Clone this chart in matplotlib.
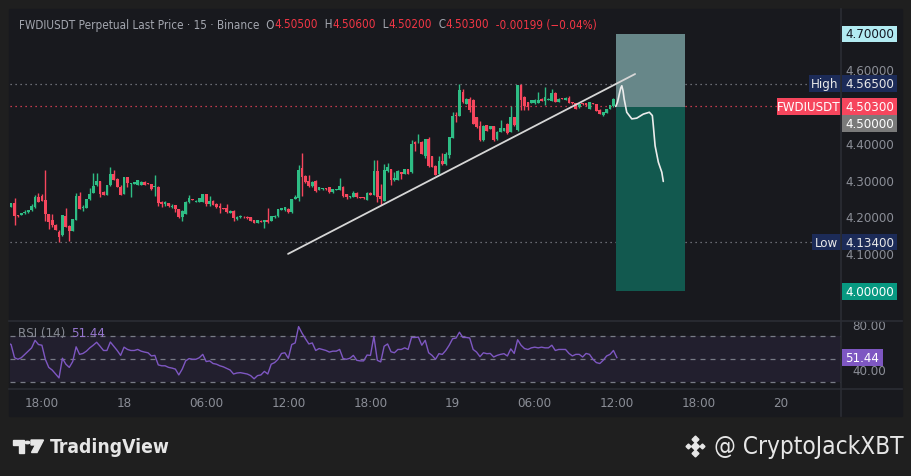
import numpy as np
import matplotlib
matplotlib.use("Agg")
import matplotlib.pyplot as plt
import matplotlib.transforms as mtransforms
from matplotlib.patches import Rectangle, Polygon, Circle

# 15 min candles, FWDIUSDT perpetual
opens = [
    4.238, 4.230, 4.240, 4.206, 4.208, 4.212, 4.215, 4.220, 4.230, 4.258,
    4.260, 4.249, 4.210, 4.194, 4.181, 4.161, 4.152, 4.206, 4.179, 4.165,
    4.194, 4.259, 4.226, 4.227, 4.250, 4.268, 4.288, 4.299, 4.271, 4.263,
    4.288, 4.319, 4.306, 4.283, 4.265, 4.310, 4.292, 4.292, 4.290, 4.290,
    4.298, 4.295, 4.292, 4.283, 4.285, 4.242, 4.238, 4.240, 4.230, 4.235,
    4.224, 4.201, 4.211, 4.242, 4.251, 4.244, 4.244, 4.244, 4.265, 4.238,
    4.247, 4.238, 4.231, 4.226, 4.226, 4.213, 4.219, 4.197, 4.201, 4.203,
    4.203, 4.201, 4.194, 4.186, 4.192, 4.188, 4.194, 4.192, 4.201, 4.204,
    4.221, 4.220, 4.224, 4.215, 4.251, 4.253, 4.335, 4.313, 4.301, 4.286,
    4.301, 4.276, 4.278, 4.280, 4.283, 4.269, 4.276, 4.276, 4.285, 4.265,
    4.256, 4.258, 4.268, 4.256, 4.255, 4.249, 4.268, 4.262, 4.327, 4.260,
    4.247, 4.326, 4.333, 4.304, 4.304, 4.324, 4.319, 4.333, 4.324, 4.407,
    4.405, 4.407, 4.369, 4.414, 4.367, 4.342, 4.320, 4.355, 4.346, 4.371,
    4.417, 4.480, 4.478, 4.543, 4.510, 4.524, 4.520, 4.474, 4.449, 4.411,
    4.452, 4.442, 4.449, 4.413, 4.434, 4.436, 4.456, 4.434, 4.474, 4.438,
    4.560, 4.529, 4.515, 4.512, 4.511, 4.512, 4.524, 4.518, 4.520, 4.518,
    4.540, 4.515, 4.525, 4.521, 4.527, 4.515, 4.511, 4.500, 4.512, 4.511,
    4.497, 4.512, 4.509, 4.494, 4.479, 4.485, 4.497, 4.503, 4.524,
]
highs = [
    4.239, 4.240, 4.254, 4.207, 4.213, 4.221, 4.222, 4.238, 4.262, 4.268,
    4.264, 4.330, 4.211, 4.210, 4.182, 4.167, 4.209, 4.227, 4.180, 4.198,
    4.267, 4.269, 4.236, 4.251, 4.281, 4.322, 4.322, 4.300, 4.272, 4.289,
    4.337, 4.330, 4.307, 4.289, 4.311, 4.311, 4.294, 4.298, 4.304, 4.299,
    4.299, 4.296, 4.293, 4.316, 4.286, 4.247, 4.247, 4.241, 4.237, 4.236,
    4.225, 4.220, 4.245, 4.262, 4.252, 4.248, 4.254, 4.266, 4.266, 4.259,
    4.248, 4.239, 4.240, 4.227, 4.238, 4.220, 4.220, 4.204, 4.207, 4.204,
    4.204, 4.202, 4.195, 4.195, 4.193, 4.195, 4.226, 4.205, 4.207, 4.225,
    4.227, 4.230, 4.226, 4.252, 4.262, 4.344, 4.376, 4.317, 4.317, 4.300,
    4.302, 4.284, 4.280, 4.281, 4.284, 4.279, 4.279, 4.308, 4.286, 4.266,
    4.259, 4.274, 4.269, 4.257, 4.256, 4.269, 4.269, 4.358, 4.357, 4.292,
    4.346, 4.349, 4.334, 4.324, 4.329, 4.325, 4.334, 4.334, 4.412, 4.410,
    4.428, 4.410, 4.415, 4.419, 4.368, 4.343, 4.367, 4.376, 4.378, 4.420,
    4.487, 4.487, 4.563, 4.551, 4.525, 4.529, 4.524, 4.475, 4.463, 4.452,
    4.453, 4.450, 4.450, 4.435, 4.467, 4.444, 4.457, 4.503, 4.475, 4.561,
    4.565, 4.530, 4.516, 4.521, 4.522, 4.542, 4.525, 4.556, 4.525, 4.549,
    4.541, 4.525, 4.526, 4.528, 4.531, 4.516, 4.512, 4.510, 4.513, 4.512,
    4.516, 4.513, 4.510, 4.495, 4.489, 4.497, 4.507, 4.525, 4.526,
]
lows = [
    4.235, 4.230, 4.181, 4.203, 4.207, 4.211, 4.214, 4.219, 4.228, 4.243,
    4.245, 4.192, 4.170, 4.174, 4.167, 4.135, 4.150, 4.175, 4.138, 4.163,
    4.193, 4.223, 4.218, 4.226, 4.249, 4.267, 4.287, 4.256, 4.262, 4.262,
    4.287, 4.302, 4.284, 4.262, 4.264, 4.285, 4.258, 4.291, 4.289, 4.289,
    4.289, 4.291, 4.277, 4.260, 4.233, 4.229, 4.233, 4.230, 4.226, 4.215,
    4.200, 4.192, 4.210, 4.241, 4.248, 4.243, 4.243, 4.243, 4.233, 4.233,
    4.234, 4.228, 4.212, 4.223, 4.214, 4.212, 4.192, 4.194, 4.200, 4.200,
    4.198, 4.191, 4.185, 4.185, 4.189, 4.172, 4.187, 4.191, 4.200, 4.203,
    4.220, 4.219, 4.214, 4.214, 4.250, 4.247, 4.260, 4.296, 4.285, 4.285,
    4.271, 4.275, 4.277, 4.277, 4.268, 4.268, 4.275, 4.275, 4.256, 4.251,
    4.255, 4.257, 4.255, 4.253, 4.252, 4.248, 4.262, 4.261, 4.242, 4.235,
    4.246, 4.325, 4.289, 4.301, 4.303, 4.306, 4.318, 4.318, 4.323, 4.383,
    4.404, 4.373, 4.363, 4.339, 4.338, 4.316, 4.319, 4.345, 4.345, 4.362,
    4.416, 4.460, 4.477, 4.512, 4.509, 4.488, 4.455, 4.443, 4.410, 4.410,
    4.435, 4.441, 4.409, 4.412, 4.433, 4.435, 4.429, 4.433, 4.451, 4.437,
    4.492, 4.492, 4.492, 4.511, 4.510, 4.511, 4.517, 4.506, 4.519, 4.517,
    4.514, 4.514, 4.522, 4.520, 4.511, 4.510, 4.496, 4.499, 4.508, 4.505,
    4.496, 4.509, 4.490, 4.481, 4.478, 4.484, 4.496, 4.502, 4.502,
]
closes = [
    4.236, 4.239, 4.206, 4.204, 4.212, 4.217, 4.221, 4.233, 4.258, 4.244,
    4.247, 4.210, 4.190, 4.181, 4.168, 4.149, 4.208, 4.176, 4.165, 4.197,
    4.260, 4.224, 4.230, 4.250, 4.265, 4.286, 4.299, 4.265, 4.263, 4.288,
    4.319, 4.303, 4.285, 4.263, 4.310, 4.296, 4.293, 4.297, 4.303, 4.298,
    4.290, 4.292, 4.278, 4.285, 4.241, 4.237, 4.242, 4.231, 4.233, 4.224,
    4.201, 4.219, 4.244, 4.253, 4.249, 4.247, 4.253, 4.265, 4.238, 4.247,
    4.235, 4.229, 4.226, 4.224, 4.215, 4.219, 4.199, 4.203, 4.206, 4.201,
    4.199, 4.192, 4.186, 4.194, 4.190, 4.194, 4.188, 4.204, 4.206, 4.224,
    4.226, 4.229, 4.215, 4.251, 4.256, 4.331, 4.310, 4.297, 4.286, 4.297,
    4.273, 4.283, 4.279, 4.278, 4.269, 4.278, 4.278, 4.286, 4.260, 4.256,
    4.258, 4.268, 4.256, 4.254, 4.253, 4.268, 4.263, 4.327, 4.256, 4.251,
    4.330, 4.337, 4.304, 4.307, 4.328, 4.319, 4.333, 4.319, 4.401, 4.401,
    4.407, 4.374, 4.414, 4.340, 4.339, 4.317, 4.355, 4.346, 4.374, 4.419,
    4.478, 4.476, 4.548, 4.516, 4.522, 4.492, 4.456, 4.447, 4.411, 4.449,
    4.436, 4.449, 4.411, 4.434, 4.443, 4.443, 4.431, 4.474, 4.452, 4.560,
    4.521, 4.503, 4.502, 4.520, 4.521, 4.520, 4.518, 4.529, 4.524, 4.540,
    4.515, 4.524, 4.523, 4.527, 4.512, 4.511, 4.497, 4.509, 4.509, 4.506,
    4.515, 4.510, 4.491, 4.482, 4.488, 4.496, 4.506, 4.524, 4.503,
]
rsi = [
    64.3, 62.9, 51.4, 50.0, 51.4, 54.3, 57.1, 60.0, 66.6, 62.9,
    62.3, 50.0, 42.9, 40.6, 37.1, 33.7, 50.9, 45.7, 42.9, 48.0,
    60.9, 54.3, 55.1, 57.1, 60.0, 62.3, 64.9, 61.4, 57.7, 57.7,
    65.1, 61.4, 57.7, 53.4, 60.6, 58.6, 57.7, 57.7, 58.6, 57.1,
    56.3, 55.7, 52.9, 53.4, 45.1, 44.3, 44.3, 42.9, 42.3, 41.4,
    36.3, 41.4, 48.6, 50.6, 50.0, 50.0, 51.4, 54.3, 48.0, 48.6,
    46.3, 45.7, 44.3, 43.4, 42.0, 40.6, 37.1, 38.0, 38.3, 37.7,
    37.1, 35.7, 32.9, 35.7, 36.3, 39.4, 37.1, 45.7, 47.1, 50.0,
    55.1, 55.7, 50.9, 62.9, 64.3, 78.6, 72.9, 68.0, 63.4, 64.3,
    57.7, 59.4, 58.6, 57.7, 56.3, 57.1, 57.1, 58.6, 50.6, 50.0,
    50.9, 53.4, 49.1, 48.6, 48.6, 53.7, 53.4, 70.0, 49.1, 47.7,
    61.4, 63.4, 56.6, 55.7, 58.6, 58.6, 60.0, 58.6, 69.1, 69.1,
    69.4, 62.3, 66.6, 55.7, 53.4, 50.0, 54.9, 54.3, 57.7, 62.3,
    68.0, 68.6, 73.7, 69.1, 69.1, 68.6, 58.6, 56.3, 52.3, 55.7,
    54.9, 55.1, 52.0, 53.4, 54.3, 54.9, 52.9, 59.1, 55.1, 67.1,
    62.3, 59.4, 58.6, 60.0, 60.6, 60.0, 60.6, 60.0, 60.0, 62.3,
    57.7, 58.6, 58.6, 58.6, 55.1, 52.9, 54.3, 54.3, 52.0, 55.1,
    54.3, 50.0, 47.1, 46.3, 49.1, 52.9, 54.3, 57.7, 51.44,
]

# hours counted from the 18th 00:00
last_bar_hour = 36.0
bar_hours = 0.25

trend_hours = [11.98, 37.33]
trend_prices = [4.102, 4.591]

path_hours = [35.92, 36.05, 36.18, 36.28, 36.36, 36.45, 36.53, 36.72, 37.09,
              37.45, 37.93, 38.37, 38.59, 38.66, 38.79, 39.03, 39.28, 39.39]
path_prices = [4.503, 4.515, 4.537, 4.553, 4.559, 4.545, 4.523, 4.487, 4.469,
               4.471, 4.482, 4.487, 4.478, 4.451, 4.396, 4.351, 4.324, 4.299]

position_hours = [35.92, 40.98]
stop_price = 4.70
entry_price = 4.50
target_price = 4.00

session_high = 4.565
session_low = 4.134
last_price = 4.503
last_rsi = 51.44

time_ticks = [-6, 0, 6, 12, 18, 24, 30, 36, 42, 48]
time_labels = ["18:00", "18", "06:00", "12:00", "18:00", "19", "06:00", "12:00", "18:00", "20"]
price_ticks = [4.10, 4.20, 4.30, 4.40, 4.60]
rsi_ticks = [80, 40]
rsi_levels = [70, 50, 30]

header_parts = [
    ("FWDIUSDT Perpetual Last Price \u00b7 15 \u00b7 Binance  O", "grey"),
    ("4.50500", "red"), ("  H", "grey"), ("4.50600", "red"),
    ("  L", "grey"), ("4.50200", "red"), ("  C", "grey"), ("4.50300", "red"),
    ("  -0.00199 (\u22120.04%)", "red"),
]

# colours
BG = "#18191e"
OUTER = "#1f1f1f"
GRID = "#2b2d34"
UP = "#2ebd85"
DOWN = "#f6465d"
TXT = "#8b8e97"
PURPLE = "#7e57c2"

# TradingView uses a narrow UI font, take the condensed DejaVu cut
plt.rcParams["font.family"] = ["DejaVu Sans"]
plt.rcParams["font.stretch"] = "condensed"

W, H = 911, 477
fig = plt.figure(figsize=(W / 100, H / 100), dpi=100, facecolor=OUTER)


def px_box(x0, y0, x1, y1):
    # pixel box (y down) -> figure fraction rect
    return [x0 / W, 1 - y1 / H, (x1 - x0) / W, (y1 - y0) / H]


def px(x, y):
    return x / W, 1 - y / H


fig.patches.append(Rectangle(px(9, 417), (902 - 9) / W, (417 - 10) / H,
                             transform=fig.transFigure, color=BG, zorder=-5))

ax = fig.add_axes(px_box(10, 11, 841, 320))
ax_rsi = fig.add_axes(px_box(10, 323, 841, 389))
for a in (ax, ax_rsi):
    a.set_facecolor(BG)
    for s in a.spines.values():
        s.set_visible(False)
    a.set_xlim(-8.33, 52.37)
ax.set_ylim(3.925, 4.765)
ax_rsi.set_ylim(24.86, 82.63)
ax.set_xticks([])
ax.set_yticks([])
ax_rsi.set_yticks([])
ax_rsi.set_xticks(time_ticks, time_labels)
ax_rsi.tick_params(axis="x", length=0, pad=6, labelcolor=TXT, labelsize=9.5)

# panel separators
for (x0, y0, x1, y1) in [(841, 10, 841, 417), (9, 321.5, 902, 321.5), (9, 389.5, 902, 389.5)]:
    fig.add_artist(plt.Line2D([x0 / W, x1 / W], [1 - y0 / H, 1 - y1 / H], color=GRID,
                              lw=1.2, zorder=5))

# candles
o = np.array(opens)
h = np.array(highs)
l = np.array(lows)
c = np.array(closes)
n = len(c)
t = last_bar_hour - bar_hours * np.arange(n)[::-1]
col = np.where(c >= o, UP, DOWN)
ax.vlines(t, l, h, colors=col, lw=1.0, zorder=3)
ax.bar(t, np.maximum(np.abs(c - o), 0.0025), width=0.2, bottom=np.minimum(o, c),
       color=col, linewidth=0, zorder=3)

# high / low / last price lines
ax.axhline(session_high, color="#83868f", lw=0.9, ls=(0, (1, 3)), zorder=2)
ax.axhline(session_low, color="#83868f", lw=0.9, ls=(0, (1, 3)), zorder=2)
ax.axhline(last_price, color=DOWN, lw=0.9, ls=(0, (1, 3)), zorder=2)

# short position tool
pw = position_hours[1] - position_hours[0]
ax.add_patch(Rectangle((position_hours[0], entry_price), pw, stop_price - entry_price,
                       color="#678789", lw=0, zorder=4))
ax.add_patch(Rectangle((position_hours[0], target_price), pw, entry_price - target_price,
                       color="#12594f", lw=0, zorder=4))

ax.plot(trend_hours, trend_prices, color="#d6d6d6", lw=1.3, zorder=6, solid_capstyle="round")
ax.plot(path_hours, path_prices, color="#ececec", lw=1.2, zorder=6,
        solid_joinstyle="round", solid_capstyle="round")

# right price scale
tr = mtransforms.blended_transform_factory(ax.transAxes, ax.transData)
hh = 8.2 / 367.7
for p in price_ticks:
    ax.text(1.0343, p, f"{p:.5f}", transform=tr, ha="center", va="center",
            color=TXT, fontsize=9.5, clip_on=False, zorder=8)


def tag(x0, x1, y, text, face, fg, half=hh):
    ax.add_patch(Rectangle((x0, y - half), x1 - x0, 2 * half, transform=tr,
                           color=face, lw=0, clip_on=False, zorder=10))
    ax.text((x0 + x1) / 2, y, text, transform=tr, ha="center", va="center",
            color=fg, fontsize=9.5, clip_on=False, zorder=11)


tag(1.0012, 1.0674, stop_price, f"{stop_price:.5f}", "#b2ebf2", "#131722")
tag(1.0012, 1.0674, session_high, f"{session_high:.5f}", "#1c2b58", "#e8e8e8")
tag(0.9615, 0.9995, session_high, "High", "#1c2b58", "#e8e8e8")
tag(1.0012, 1.0674, last_price, f"{last_price:.5f}", DOWN, "white")
tag(0.9230, 0.9995, last_price, "FWDIUSDT", DOWN, "white")
tag(1.0012, 1.0674, last_price - 2 * hh - 0.002, f"{entry_price:.5f}", "#7a7a7a", "white")
tag(1.0012, 1.0674, session_low, f"{session_low:.5f}", "#1c2b58", "#e8e8e8")
tag(0.9650, 0.9995, session_low, "Low", "#1c2b58", "#e8e8e8")
tag(1.0012, 1.0674, target_price, f"{target_price:.5f}", "#089981", "white")

# RSI pane
ax_rsi.axhspan(rsi_levels[-1], rsi_levels[0], color=PURPLE, alpha=0.1, lw=0)
for lv in rsi_levels:
    ax_rsi.axhline(lv, color="#787b86", lw=0.9, ls=(0, (4, 4)))
ax_rsi.plot(t, rsi, color=PURPLE, lw=1.0, zorder=3)
tr2 = mtransforms.blended_transform_factory(ax_rsi.transAxes, ax_rsi.transData)
for v in rsi_ticks:
    ax_rsi.text(1.0343, v, f"{v:.2f}", transform=tr2, ha="center", va="center",
                color=TXT, fontsize=9.5, clip_on=False)
rh = 7.3
ax_rsi.add_patch(Rectangle((1.0012, last_rsi - rh), 0.0493, 2 * rh, transform=tr2,
                           color=PURPLE, lw=0, clip_on=False, zorder=10))
ax_rsi.text(1.0258, last_rsi, f"{last_rsi:.2f}", transform=tr2, ha="center", va="center",
            color="white", fontsize=9.5, clip_on=False, zorder=11)
r1 = ax_rsi.text(0.0096, 0.84, "RSI (14)", transform=ax_rsi.transAxes, ha="left",
                 va="center", color="#868993", fontsize=9.5)

renderer = fig.canvas.get_renderer()
bb = r1.get_window_extent(renderer)
x_next = ax_rsi.transAxes.inverted().transform((bb.x1 + 6, 0))[0]
ax_rsi.text(x_next, 0.84, f"{last_rsi:.2f}", transform=ax_rsi.transAxes, ha="left",
            va="center", color="#9575cd", fontsize=9.5)

# header legend, pieces laid side by side, scaled so it ends where the original does
hsize = 10
pieces = []
hx, hy = px(18.6, 25)
for text, kind in header_parts:
    piece = fig.text(hx, hy, text, ha="left", va="center", fontsize=hsize,
                     color="#a3a6af" if kind == "grey" else "#f23645")
    pieces.append(piece)
    hx = piece.get_window_extent(renderer).x1 / W
scale = (592 - 18.6) / (hx * W - 18.6)
hsize = hsize * min(scale, 1.0)
hx = 18.6 / W
for piece in pieces:
    piece.set_fontsize(hsize)
    piece.set_x(hx)
    hx = piece.get_window_extent(renderer).x1 / W

# footer: TradingView mark
logo = "#e6e6e6"


def pts(seq):
    return [px(x, y) for x, y in seq]


fig.patches.append(Polygon(pts([(13, 441), (24, 441), (24, 453.5), (19, 453.5), (19, 446), (13, 446)]),
                           closed=True, transform=fig.transFigure, color=logo))
fig.patches.append(Circle(px(27.5, 443.5), 2.3 / W, transform=fig.transFigure, color=logo))
fig.patches.append(Polygon(pts([(31, 441), (43.5, 441), (37, 453.5), (31.5, 453.5), (35.5, 446), (31, 446)]),
                           closed=True, transform=fig.transFigure, color=logo))
tv = fig.text(*px(49.5, 447.5), "TradingView", ha="left", va="center", color=logo,
              fontsize=13, fontweight="bold")
w = tv.get_window_extent(renderer).width
tv.set_fontsize(13 * 120 / w)

# footer: author handle with a small diamond badge
for dx, dy, s in [(0, 0, 4.5), (-7, 0, 2.5), (7, 0, 2.5), (0, -7, 3.5), (0, 7, 3.5)]:
    fig.add_artist(plt.Line2D([(695 + dx) / W], [1 - (447 + dy) / H], marker="D",
                              markersize=s, color=logo, lw=0))
handle = fig.text(*px(713.5, 447), "@ CryptoJackXBT", ha="left", va="center",
                  color=logo, fontsize=15)
w = handle.get_window_extent(renderer).width
handle.set_fontsize(15 * 190 / w)

fig.savefig("out.png", dpi=100, facecolor=OUTER)
